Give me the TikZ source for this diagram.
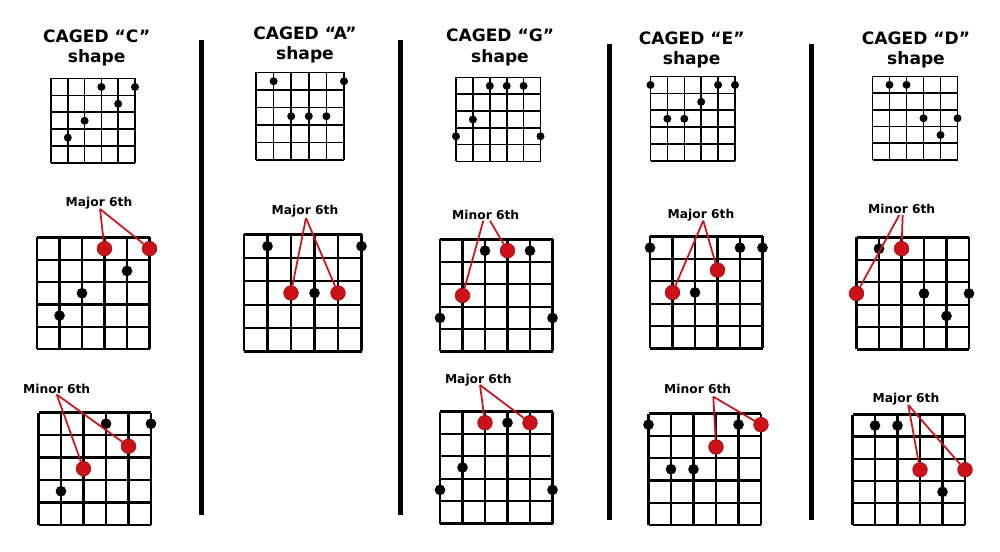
\documentclass[tikz,border=0pt]{standalone}
\usepackage{fontspec}
\setmainfont{DejaVu Sans}
\definecolor{sixthred}{HTML}{CC1118}
\definecolor{sixthedge}{HTML}{8A0A0E}
\tikzset{
  board/.style n args = {4}{shift={(#1,#2)}, xscale=#3/5, yscale=#4/5},
  smallgrid/.style = {line width=1.2pt},
  biggrid/.style = {line width=1.7pt},
  smalldot/.style = {circle, fill=black, inner sep=0pt, minimum size=6pt},
  bigdot/.style = {circle, fill=black, inner sep=0pt, minimum size=8pt},
  reddot/.style = {circle, fill=sixthred, draw=sixthedge, line width=0.4pt, inner sep=0pt, minimum size=11pt},
  title/.style = {font=\bfseries\fontsize{12.8}{15.3}\selectfont, align=center, inner sep=0pt},
  interval/.style = {font=\bfseries\fontsize{9.2}{11}\selectfont, inner sep=0pt, anchor=base},
  sixthline/.style = {draw=sixthred, line width=1.3pt},
  separator/.style = {line width=3.75pt}
}
\newcommand{\frets}[1]{%
  \foreach \i in {0,...,5} {\draw[#1] (\i,0) -- (\i,5); \draw[#1] (0,\i) -- (5,\i);}}

\begin{document}
\begin{tikzpicture}[x=0.75pt, y=-0.75pt]
  \useasboundingbox (0,0) rectangle (1000,552);
  % separators
  \draw[separator] (201,40) -- (201,515);
  \draw[separator] (400.5,40) -- (400.5,515);
  \draw[separator] (609.5,44) -- (609.5,520);
  \draw[separator] (811,44) -- (811,520);
  % titles
  \node[title] (tC) at (96.7,48) {CAGED “C”\\shape};
  \node[title] (tA) at (305,44.8) {CAGED “A”\\shape};
  \node[title] (tG) at (500,47.5) {CAGED “G”\\shape};
  \node[title] (tE) at (691.7,49.8) {CAGED “E”\\shape};
  \node[title] (tD) at (916,49.8) {CAGED “D”\\shape};

  % C shape
  \begin{scope}[board={51}{78.5}{84}{84.5}]
    \frets{smallgrid}
    \foreach \s/\r in {3/0,5/0,4/1,2/2,1/3} \node[smalldot] (c0-\s) at (\s,\r+.5) {};
  \end{scope}
  \begin{scope}[board={37}{237.5}{112.5}{111.5}]
    \frets{biggrid}
    \foreach \s/\r in {4/1,2/2,1/3} \node[bigdot] (c1-\s) at (\s,\r+.5) {};
    \node[reddot] (c1r3) at (3,.5) {};
    \node[reddot] (c1r5) at (5,.5) {};
  \end{scope}
  \begin{scope}[board={38.5}{412.5}{112.5}{112.5}]
    \frets{biggrid}
    \foreach \s/\r in {3/0,5/0,1/3} \node[bigdot] (c2-\s) at (\s,\r+.5) {};
    \node[reddot] (c2r4) at (4,1.5) {};
    \node[reddot] (c2r2) at (2,2.5) {};
  \end{scope}
  \node[interval] (c1lab) at (99,206.4) {Major 6th};
  \coordinate (c1top) at (100,209);
  \draw[sixthline] (c1top) -- (c1r3);
  \draw[sixthline] (c1top) -- (c1r5);
  \node[interval] (c2lab) at (56.7,393.4) {Minor 6th};
  \coordinate (c2top) at (56.7,394.5);
  \draw[sixthline] (c2top) -- (c2r4);
  \draw[sixthline] (c2top) -- (c2r2);

  % A shape
  \begin{scope}[board={256}{72.5}{88}{87.5}]
    \frets{smallgrid}
    \foreach \s/\r in {1/0,5/0,2/2,3/2,4/2} \node[smalldot] (a0-\s) at (\s,\r+.5) {};
  \end{scope}
  \begin{scope}[board={244}{234.5}{117.5}{117}]
    \frets{biggrid}
    \foreach \s/\r in {1/0,5/0,3/2} \node[bigdot] (a1-\s) at (\s,\r+.5) {};
    \node[reddot] (a1r2) at (2,2.5) {};
    \node[reddot] (a1r4) at (4,2.5) {};
  \end{scope}
  \node[interval] (a1lab) at (305,214.4) {Major 6th};
  \coordinate (a1top) at (306,218);
  \draw[sixthline] (a1top) -- (a1r2);
  \draw[sixthline] (a1top) -- (a1r4);

  % G shape
  \begin{scope}[board={456}{77.5}{84.5}{84}]
    \frets{smallgrid}
    \foreach \s/\r in {2/0,3/0,4/0,1/2,0/3,5/3} \node[smalldot] (g0-\s) at (\s,\r+.5) {};
  \end{scope}
  \begin{scope}[board={440}{239.5}{112.5}{112}]
    \frets{biggrid}
    \foreach \s/\r in {2/0,4/0,0/3,5/3} \node[bigdot] (g1-\s) at (\s,\r+.5) {};
    \node[reddot] (g1r3) at (3,.5) {};
    \node[reddot] (g1r1) at (1,2.5) {};
  \end{scope}
  \begin{scope}[board={440}{411.5}{112.5}{112}]
    \frets{biggrid}
    \foreach \s/\r in {3/0,1/2,0/3,5/3} \node[bigdot] (g2-\s) at (\s,\r+.5) {};
    \node[reddot] (g2r2) at (2,.5) {};
    \node[reddot] (g2r4) at (4,.5) {};
  \end{scope}
  \node[interval] (g1lab) at (485.7,219.4) {Minor 6th};
  \coordinate (g1topa) at (483.3,220.7);
  \coordinate (g1topb) at (490,220.7);
  \draw[sixthline] (g1topa) -- (g1r1);
  \draw[sixthline] (g1topb) -- (g1r3);
  \node[interval] (g2lab) at (478.3,383.4) {Major 6th};
  \coordinate (g2top) at (480,385);
  \draw[sixthline] (g2top) -- (g2r2);
  \draw[sixthline] (g2top) -- (g2r4);

  % E shape
  \begin{scope}[board={650.5}{76.5}{84.5}{84.5}]
    \frets{smallgrid}
    \foreach \s/\r in {0/0,4/0,5/0,3/1,1/2,2/2} \node[smalldot] (e0-\s) at (\s,\r+.5) {};
  \end{scope}
  \begin{scope}[board={650}{236.5}{112.5}{112}]
    \frets{biggrid}
    \foreach \s/\r in {0/0,4/0,5/0,2/2} \node[bigdot] (e1-\s) at (\s,\r+.5) {};
    \node[reddot] (e1r3) at (3,1.5) {};
    \node[reddot] (e1r1) at (1,2.5) {};
  \end{scope}
  \begin{scope}[board={648.5}{413.5}{112.5}{111.5}]
    \frets{biggrid}
    \foreach \s/\r in {0/0,4/0,1/2,2/2} \node[bigdot] (e2-\s) at (\s,\r+.5) {};
    \node[reddot] (e2r5) at (5,.5) {};
    \node[reddot] (e2r3) at (3,1.5) {};
  \end{scope}
  \node[interval] (e1lab) at (701,218.7) {Major 6th};
  \coordinate (e1top) at (703.3,220.7);
  \draw[sixthline] (e1top) -- (e1r1);
  \draw[sixthline] (e1top) -- (e1r3);
  \node[interval] (e2lab) at (697.7,393.7) {Minor 6th};
  \coordinate (e2top) at (713.3,396.7);
  \draw[sixthline] (e2top) -- (e2r3);
  \draw[sixthline] (e2top) -- (e2r5);

  % D shape
  \begin{scope}[board={872.5}{76.5}{85}{83.5}]
    \frets{smallgrid}
    \foreach \s/\r in {1/0,2/0,3/2,5/2,4/3} \node[smalldot] (d0-\s) at (\s,\r+.5) {};
  \end{scope}
  \begin{scope}[board={856.5}{237.5}{112.5}{112}]
    \frets{biggrid}
    \foreach \s/\r in {1/0,3/2,5/2,4/3} \node[bigdot] (d1-\s) at (\s,\r+.5) {};
    \node[reddot] (d1r2) at (2,.5) {};
    \node[reddot] (d1r0) at (0,2.5) {};
  \end{scope}
  \begin{scope}[board={852.5}{414.5}{112.5}{110.5}]
    \frets{biggrid}
    \foreach \s/\r in {1/0,2/0,4/3} \node[bigdot] (d2-\s) at (\s,\r+.5) {};
    \node[reddot] (d2r3) at (3,2.5) {};
    \node[reddot] (d2r5) at (5,2.5) {};
  \end{scope}
  \node[interval] (d1lab) at (901.7,213.4) {Minor 6th};
  \coordinate (d1topa) at (899.3,215);
  \coordinate (d1topb) at (902.7,215);
  \draw[sixthline] (d1topa) -- (d1r0);
  \draw[sixthline] (d1topb) -- (d1r2);
  \node[interval] (d2lab) at (906,402.7) {Major 6th};
  \coordinate (d2top) at (908.3,405);
  \draw[sixthline] (d2top) -- (d2r3);
  \draw[sixthline] (d2top) -- (d2r5);
\end{tikzpicture}
\end{document}
